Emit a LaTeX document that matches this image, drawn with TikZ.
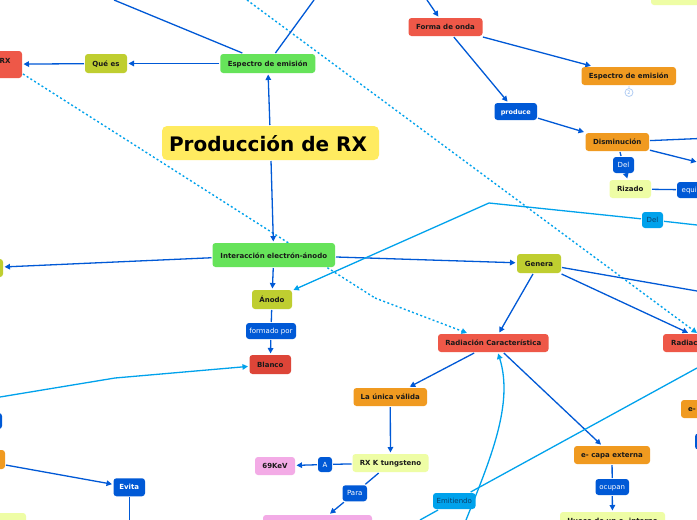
\documentclass[tikz,border=0pt]{standalone}
\usepackage{fontspec}
\setmainfont{DejaVu Sans}
\usetikzlibrary{arrows.meta,backgrounds}
\definecolor{cblue}{HTML}{0059D6}
\definecolor{csky}{HTML}{00A2EC}
\definecolor{cgreen}{HTML}{66E35A}
\definecolor{colive}{HTML}{BFCE30}
\definecolor{cred}{HTML}{EE5848}
\definecolor{cdred}{HTML}{DD4538}
\definecolor{corange}{HTML}{F09A20}
\definecolor{clime}{HTML}{EEFDA5}
\definecolor{cpink}{HTML}{F3ABE6}
\definecolor{ctitle}{HTML}{FFEB60}
\definecolor{cskytext}{HTML}{0B3F6A}
\tikzset{
  box/.style={rounded corners=3pt,inner sep=0pt,outer sep=1pt,text height=5pt,text depth=0pt,font=\fontsize{7}{8}\selectfont\bfseries,text=black!90},
  bluebox/.style={box,fill=cblue,text=white,font=\fontsize{7}{8}\selectfont},
  skybox/.style={box,fill=csky,text=cskytext,font=\fontsize{7}{8}\selectfont},
  lbl/.style={inner sep=0pt,anchor=west,text height=5pt,text depth=0pt,font=\fontsize{7}{8}\selectfont\bfseries,text=black!90},
  link/.style={cblue,line width=1.3pt},
  linka/.style={link,-{Triangle[length=5.5pt,width=5.5pt]},shorten >=0.5pt},
  slink/.style={csky,line width=1.3pt},
  slinka/.style={slink,-{Triangle[length=5.5pt,width=5.5pt]},shorten >=0.5pt},
  dotlink/.style={csky,line width=1.4pt,dash pattern=on 2pt off 2.4pt},
  dotlinka/.style={dotlink,-{Triangle[length=5.5pt,width=5.5pt]}},
}
\begin{document}
\begin{tikzpicture}[x=1pt,y=-1pt]
\useasboundingbox (0,0) rectangle (697,520);
\clip (0,0) rectangle (697,520);
% nodes
\node[box,rounded corners=5pt,fill=ctitle,minimum width=217pt,minimum height=34pt,text height=20pt,text depth=4pt,font=\fontsize{20}{24}\selectfont\bfseries,text=black] (title) at (270.5,143) {Producción de RX\kern5pt};
\node[box,fill=cgreen,minimum width=95pt,minimum height=19pt] (espec) at (267.75,63.5) {Espectro de emisión};
\node[box,fill=colive,minimum width=42pt,minimum height=19pt] (quees) at (106,63.5) {Qué es};
\node[box,fill=cred,minimum width=104pt,minimum height=27pt] (rx) at (-30,64.5) {};
\node[lbl] (rxtext) at (-0.5,60.5) {RX};
\node[box,fill=cgreen,minimum width=122.5pt,minimum height=24pt,text height=7pt] (inter) at (273.75,255) {Interacción electrón-ánodo};
\node[box,fill=colive,minimum width=46pt,minimum height=18pt] (olive) at (-20,268) {};
\node[box,fill=colive,minimum width=40pt,minimum height=19pt] (anodo) at (272,299.5) {Ánodo};
\node[bluebox,minimum width=50pt,minimum height=16pt] (formado) at (271,331) {formado por};
\node[box,fill=cdred,minimum width=41.5pt,minimum height=19pt] (blanco) at (270.25,364.5) {Blanco};
\node[box,fill=colive,minimum width=44pt,minimum height=19pt] (genera) at (539,263.5) {Genera};
\node[box,fill=cred,minimum width=74pt,minimum height=18pt] (forma) at (445.5,27) {Forma de onda};
\node[box,fill=corange,minimum width=94.5pt,minimum height=18pt] (especb) at (628.75,76) {Espectro de emisión};
\node[circle,draw=cblue!30,line width=0.8pt,fill=white,minimum size=8pt,inner sep=0pt,text=cblue!45,font=\fontsize{5}{5}\selectfont] (more) at (629,92.5) {2};
\node[bluebox,minimum width=42.5pt,minimum height=17pt,font=\fontsize{6.5}{8}\selectfont\bfseries] (produce) at (515.75,111.5) {produce};
\node[box,fill=corange,minimum width=63.5pt,minimum height=18pt] (dismin) at (617.25,142) {Disminución};
\node[bluebox,minimum width=21pt,minimum height=16pt] (dela) at (623.5,165) {Del};
\node[box,fill=clime,minimum width=41.5pt,minimum height=18pt] (rizado) at (630.25,189) {Rizado};
\node[bluebox,minimum width=50pt,minimum height=16pt] (equi) at (702,190) {};
\node[lbl,text=white,font=\fontsize{7}{8}\selectfont] (equitext) at (681.5,190) {equi};
\node[skybox,minimum width=21pt,minimum height=16pt] (delb) at (652.5,220) {Del};
\node[box,fill=cred,minimum width=110.5pt,minimum height=18pt] (radcar) at (493.25,343) {Radiación Característica};
\node[box,fill=cred,minimum width=94pt,minimum height=18pt] (radfr) at (710,343) {};
\node[lbl] (radtext) at (671,343) {Radiac};
\node[box,fill=corange,minimum width=73.5pt,minimum height=18pt] (unica) at (390.25,397) {La única válida};
\node[box,fill=clime,minimum width=76pt,minimum height=18pt] (rxk) at (390.5,463) {RX K tungsteno};
\node[bluebox,minimum width=14pt,minimum height=15pt] (aa) at (325,464.5) {A};
\node[box,fill=cpink,minimum width=40pt,minimum height=18pt] (kev) at (275,466) {69KeV};
\node[bluebox,minimum width=24.5pt,minimum height=16pt] (para) at (354.75,493.25) {Para};
\node[box,fill=cpink,minimum width=109pt,minimum height=18pt] (pinkb) at (317.5,524) {};
\node[skybox,minimum width=42.5pt,minimum height=16pt] (emit) at (454.25,501) {Emitiendo};
\node[box,fill=corange,minimum width=76pt,minimum height=18pt] (capa) at (612,455) {e- capa externa};
\node[bluebox,minimum width=33.5pt,minimum height=16pt] (ocupan) at (612.25,487) {ocupan};
\node[box,fill=clime,minimum width=105pt,minimum height=18pt] (hueco) at (612.5,521) {Hueco de un e- interno};
\node[box,fill=corange,minimum width=50pt,minimum height=18pt] (eb) at (706,409) {};
\node[lbl] (ebtext) at (688,409) {e-};
\node[bluebox,minimum width=20pt,minimum height=16pt] (blr) at (705,441.5) {};
\node[bluebox,minimum width=40pt,minimum height=16pt] (bll) at (-18,421) {};
\node[box,fill=corange,minimum width=60pt,minimum height=19pt] (orl) at (-25,459.5) {};
\node[bluebox,minimum width=31.5pt,minimum height=18pt,font=\fontsize{7}{8}\selectfont\bfseries] (evita) at (129.25,487.25) {Evita};
\node[box,fill=clime,minimum width=52pt,minimum height=18pt] (liml) at (0,522) {};
\node[box,fill=clime,minimum width=70pt,minimum height=18pt] (limr) at (686,-4) {};
% free ends
\coordinate (ta) at (114,0);
\coordinate (tb) at (314,0);
\coordinate (tc) at (427,0);
\coordinate (td) at (247,0);
\coordinate (re) at (697,333);
\coordinate (rf) at (697,291);
\coordinate (rg) at (697,138.6);
\coordinate (rh) at (697,162);
\coordinate (ri) at (697,225);
\coordinate (rj) at (697,368);
\coordinate (bd) at (489,203);
\coordinate (be) at (375,298);
\coordinate (lb) at (0,397);
\coordinate (bf) at (115,378);
\coordinate (ba) at (420,520);
\coordinate (bb) at (466,520);
\coordinate (bc) at (129.25,520);
\begin{pgfonlayer}{background}
\fill[white] (0,0) rectangle (697,520);
\draw[dotlink] ([yshift=-9.5pt]rx.east) -- (be);
\draw[dotlinka] (be) -- (radcar);
\draw[dotlinka] (td) -- (re);
\draw[link] (espec) -- (ta);
\draw[link] (espec) -- (tb);
\draw[linka] (title) -- (espec);
\draw[linka] (title) -- (inter);
\draw[linka] (espec) -- (quees);
\draw[linka] (quees) -- (rx);
\draw[linka] (inter) -- (olive);
\draw[linka] (inter) -- (anodo);
\draw[linka] (inter) -- (genera);
\draw[link] (anodo) -- (formado);
\draw[linka] (formado) -- (blanco);
\draw[linka] (genera) -- (radcar);
\draw[linka] (genera) -- (radfr);
\draw[link] (genera) -- (rf);
\draw[linka] (radcar) -- (unica);
\draw[linka] (radcar) -- (capa);
\draw[linka] (unica) -- (rxk);
\draw[link] (rxk) -- (aa);
\draw[linka] (aa) -- (kev);
\draw[link] (rxk) -- (para);
\draw[linka] (para) -- (pinkb);
\draw[link] (capa) -- (ocupan);
\draw[linka] (ocupan) -- (hueco);
\draw[linka] (tc) -- (forma);
\draw[linka] (forma) -- (especb);
\draw[linka] (forma) -- (produce);
\draw[linka] (produce) -- (dismin);
\draw[link] (dismin) -- (dela);
\draw[linka] (dela) -- (rizado);
\draw[link] (dismin) -- (rg);
\draw[linka] (dismin) -- (rh);
\draw[link] (rizado) -- (equi);
\draw[linka] (orl) -- (evita);
\draw[link] (evita) -- (bc);
\draw[cblue!30,line width=0.8pt] (especb) -- (more);
\draw[slink] (ri) -- (delb);
\draw[slinka] (delb) -- (bd) -- (anodo);
\draw[slinka] (lb) -- (bf) -- (blanco);
\draw[slink] (emit) -- (rj);
\draw[slink] (emit) -- (ba);
\draw[slinka] (bb) .. controls (490,460) and (514,404) .. ([xshift=4.75pt]radcar.south);
\end{pgfonlayer}
\end{tikzpicture}
\end{document}
